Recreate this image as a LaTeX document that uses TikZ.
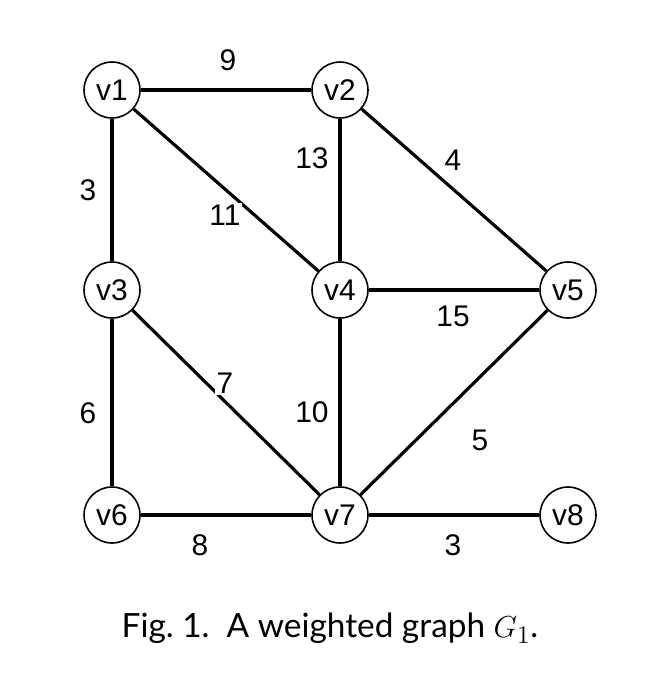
\documentclass[tikz,border=0pt]{standalone}
\usepackage{fontspec}
\setmainfont{Liberation Sans}
\newfontfamily\capfont{Lato}
\begin{document}
\begin{tikzpicture}[x=0.02cm,y=-0.02cm,
  vert/.style={circle,draw,line width=0.9pt,minimum size=1.12cm,inner sep=0pt,fill=white,font=\fontsize{17}{17}\selectfont},
  edge/.style={line width=1.8pt},
  wt/.style={font=\fontsize{17}{17}\selectfont,fill=white,inner sep=1pt}]
\useasboundingbox (0,0) rectangle (660,676);
\node[vert] (v1) at (112,90) {v1};
\node[vert] (v2) at (340,90) {v2};
\node[vert] (v3) at (112,290) {v3};
\node[vert] (v4) at (340,290) {v4};
\node[vert] (v5) at (568,290) {v5};
\node[vert] (v6) at (112,515) {v6};
\node[vert] (v7) at (340,515) {v7};
\node[vert] (v8) at (568,515) {v8};
\draw[edge] (v1)--(v2); \draw[edge] (v1)--(v3); \draw[edge] (v1)--(v4);
\draw[edge] (v2)--(v4); \draw[edge] (v2)--(v5); \draw[edge] (v4)--(v5);
\draw[edge] (v3)--(v6); \draw[edge] (v3)--(v7); \draw[edge] (v4)--(v7);
\draw[edge] (v5)--(v7); \draw[edge] (v6)--(v7); \draw[edge] (v7)--(v8);
\node[wt] (w1) at (228,60) {9};
\node[wt] (w2) at (88,190) {3};
\node[wt] (w3) at (225,215) {11};
\node[wt] (w4) at (312,158) {13};
\node[wt] (w5) at (453,160) {4};
\node[wt] (w6) at (453,316) {15};
\node[wt] (w7) at (225,383) {7};
\node[wt] (w8) at (88,413) {6};
\node[wt] (w9) at (312,412) {10};
\node[wt] (w10) at (480,440) {5};
\node[wt] (w11) at (200,545) {8};
\node[wt] (w12) at (453,545) {3};
\node[font=\capfont\fontsize{19}{19}\selectfont] (cap) at (330,628) {Fig.\ 1.\ \ A weighted graph $G_1$.};
\end{tikzpicture}
\end{document}
